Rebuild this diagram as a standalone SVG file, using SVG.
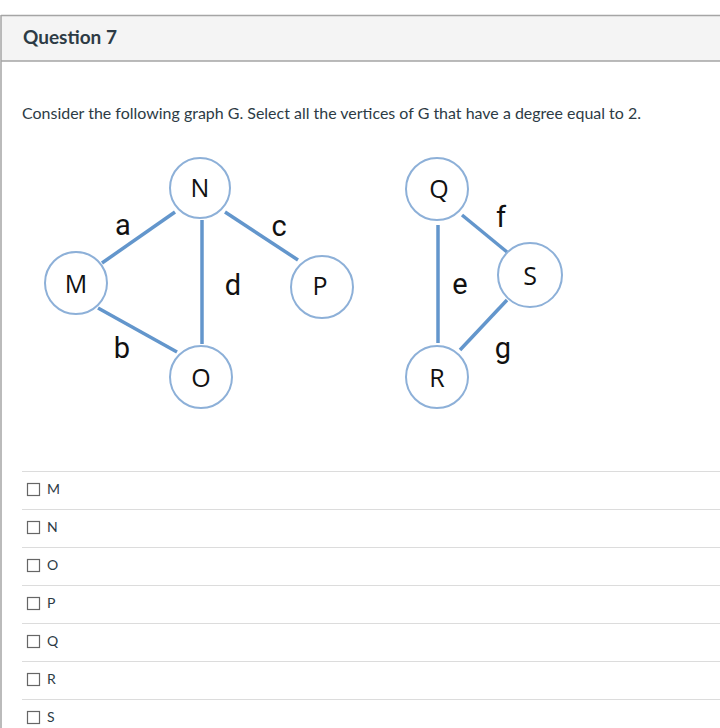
<svg xmlns="http://www.w3.org/2000/svg" width="720" height="728" viewBox="0 0 720 728">
<style>
.hdr{font-family:Lato,"Liberation Sans",sans-serif;font-weight:bold;font-size:19px;fill:#2d3b45}
.body{font-family:Lato,"Liberation Sans",sans-serif;font-size:16px;fill:#2d3b45}
.node circle{fill:#fff;stroke:#8db0d8;stroke-width:2}
.nl{font-family:"Open Sans","Liberation Sans",sans-serif;font-size:25px;fill:#111;text-anchor:middle}
.el{font-family:Roboto,"Liberation Sans",sans-serif;font-size:29px;fill:#111;text-anchor:middle}
.edge{stroke:#6396cc;stroke-width:3.5;stroke-linecap:butt}
.sep{stroke:#dcdcdc;stroke-width:1}
.cb{fill:#fff;stroke:#666;stroke-width:1.2}
.opt{font-family:Lato,"Liberation Sans",sans-serif;font-size:14px;fill:#2d3b45}
</style>
<rect x="0" y="0" width="720" height="728" fill="#fff"/>
<g id="header">
<rect x="1" y="15" width="720" height="46" fill="#f4f4f4"/>
<line x1="1" y1="15.5" x2="720" y2="15.5" stroke="#a5a5a5" stroke-width="1.5"/>
<line x1="1" y1="61" x2="720" y2="61" stroke="#a5a5a5" stroke-width="1.5"/>
<line x1="1" y1="15" x2="1" y2="728" stroke="#a5a5a5" stroke-width="1.5"/>
<text class="hdr" x="23" y="44">Question 7</text>
</g>
<text class="body" x="22" y="119" textLength="619" lengthAdjust="spacingAndGlyphs">Consider the following graph G. Select all the vertices of G that have a degree equal to 2.</text>
<g id="connectors">
<line class="edge" x1="102" y1="263" x2="175" y2="212"/>
<line class="edge" x1="98" y1="308" x2="177" y2="352"/>
<line class="edge" x1="202" y1="220" x2="202" y2="344"/>
<line class="edge" x1="225" y1="212" x2="298" y2="260"/>
<line class="edge" x1="438" y1="225" x2="438" y2="343"/>
<line class="edge" x1="462" y1="215" x2="507" y2="252"/>
<line class="edge" x1="507" y1="300" x2="460" y2="350"/>
<text class="el" x="123" y="235">a</text>
<text class="el" x="122" y="358">b</text>
<text class="el" x="279" y="236">c</text>
<text class="el" x="233" y="295">d</text>
<text class="el" x="460" y="294">e</text>
<text class="el" x="501" y="227">f</text>
<text class="el" x="503" y="358">g</text>
</g>
<g id="node-N" class="node"><circle cx="200" cy="188" r="30"/><text class="nl" x="200" y="197">N</text></g>
<g id="node-M" class="node"><circle cx="76" cy="283" r="31"/><text class="nl" x="76" y="293">M</text></g>
<g id="node-O" class="node"><circle cx="201" cy="377" r="31"/><text class="nl" x="201" y="387">O</text></g>
<g id="node-P" class="node"><circle cx="322" cy="287" r="31"/><text class="nl" x="320" y="295">P</text></g>
<g id="node-Q" class="node"><circle cx="437" cy="189" r="31"/><text class="nl" x="439" y="198">Q</text></g>
<g id="node-S" class="node"><circle cx="530" cy="275" r="32"/><text class="nl" x="530" y="285">S</text></g>
<g id="node-R" class="node"><circle cx="437" cy="377" r="31"/><text class="nl" x="437" y="387">R</text></g>
<g id="options">
<line class="sep" x1="22" y1="471.5" x2="720" y2="471.5"/>
<line class="sep" x1="22" y1="509.5" x2="720" y2="509.5"/>
<line class="sep" x1="22" y1="547.5" x2="720" y2="547.5"/>
<line class="sep" x1="22" y1="585.5" x2="720" y2="585.5"/>
<line class="sep" x1="22" y1="623.5" x2="720" y2="623.5"/>
<line class="sep" x1="22" y1="661.5" x2="720" y2="661.5"/>
<line class="sep" x1="22" y1="699.5" x2="720" y2="699.5"/>
<rect class="cb" x="27.5" y="483.5" width="12" height="12"/><text class="opt" x="47" y="494">M</text>
<rect class="cb" x="27.5" y="521.5" width="12" height="12"/><text class="opt" x="47" y="532">N</text>
<rect class="cb" x="27.5" y="559.5" width="12" height="12"/><text class="opt" x="47" y="570">O</text>
<rect class="cb" x="27.5" y="597.5" width="12" height="12"/><text class="opt" x="47" y="608">P</text>
<rect class="cb" x="27.5" y="635.5" width="12" height="12"/><text class="opt" x="47" y="646">Q</text>
<rect class="cb" x="27.5" y="673.5" width="12" height="12"/><text class="opt" x="47" y="684">R</text>
<rect class="cb" x="27.5" y="711.5" width="12" height="12"/><text class="opt" x="47" y="722">S</text>
</g>
</svg>
